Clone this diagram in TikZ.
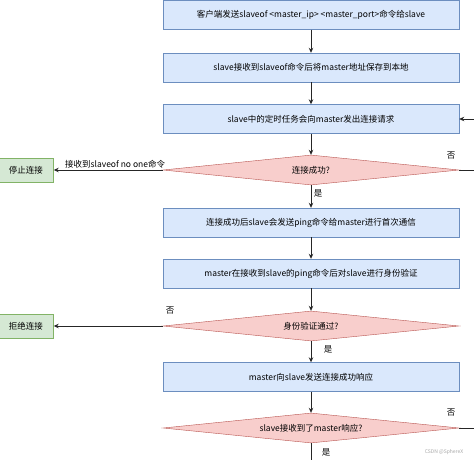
\documentclass[tikz,border=0pt]{standalone}
\usepackage{fontspec}
\setmainfont{Noto Sans CJK SC}
\usetikzlibrary{shapes.geometric,arrows.meta}
\definecolor{bfill}{HTML}{DAE8FC}\definecolor{bdraw}{HTML}{6C8EBF}
\definecolor{rfill}{HTML}{F8CECC}\definecolor{rdraw}{HTML}{B85450}
\definecolor{gfill}{HTML}{D5E8D4}\definecolor{gdraw}{HTML}{82B366}
\tikzset{
  stepbox/.style={draw=bdraw,fill=bfill,minimum width=296pt,minimum height=29pt,inner sep=0pt,font=\fontsize{8.5}{10}\selectfont},
  decide/.style={diamond,shape aspect=10,draw=rdraw,fill=rfill,minimum width=296pt,minimum height=30pt,inner sep=0pt,font=\fontsize{8.5}{10}\selectfont},
  endbox/.style={draw=gdraw,fill=gfill,minimum width=55pt,minimum height=24pt,inner sep=0pt,font=\fontsize{8.5}{10}\selectfont},
  lbl/.style={inner sep=0pt,font=\fontsize{8.5}{10}\selectfont},
  conn/.style={draw=black!85,line width=0.8pt,-{Stealth[length=5pt,width=4.5pt]}},
  line/.style={draw=black!85,line width=0.8pt}
}
\begin{document}
\begin{tikzpicture}[x=1pt,y=-1pt]
\useasboundingbox (0,0) rectangle (474,460);
\clip (0,0) rectangle (474,460);
\node[stepbox] (b1) at (311,15) {客户端发送slaveof <master\_ip> <master\_port>命令给slave};
\node[stepbox] (b2) at (311,67.5) {slave接收到slaveof命令后将master地址保存到本地};
\node[stepbox] (b3) at (311,119) {slave中的定时任务会向master发出连接请求};
\node[decide] (d1) at (311,170) {连接成功?};
\node[endbox] (e1) at (26,170) {停止连接};
\node[stepbox] (b4) at (311,222.5) {连接成功后slave会发送ping命令给master进行首次通信};
\node[stepbox] (b5) at (311,273.5) {master在接收到slave的ping命令后对slave进行身份验证};
\node[decide] (d2) at (311,326) {身份验证通过?};
\node[endbox] (e2) at (26,326) {拒绝连接};
\node[stepbox] (b6) at (311,377) {master向slave发送连接成功响应};
\node[decide] (d3) at (311,428) {slave接收到了master响应?};
\coordinate (loop1) at (485,170);
\coordinate (loop3) at (485,428);
\coordinate (down3) at (311,475);

\draw[conn] (b1) -- (b2);
\draw[conn] (b2) -- (b3);
\draw[conn] (b3) -- (d1);
\draw[conn] (d1) -- (b4);
\draw[conn] (b4) -- (b5);
\draw[conn] (b5) -- (d2);
\draw[conn] (d2) -- (b6);
\draw[conn] (b6) -- (d3);
\draw[conn] (d1.west) -- (e1.east);
\draw[conn] (d2.west) -- (e2.east);
\draw[conn] (d1.east) -- (loop1) |- (b3.east);
\draw[line] (d3.east) -- (loop3);
\draw[conn] (d3.south) -- (down3);

\node[lbl,anchor=west] (t1) at (65,164) {接收到slaveof no one命令};
\node[lbl] (t2) at (451,156) {否};
\node[lbl] (t3) at (318,193) {是};
\node[lbl] (t4) at (170,311) {否};
\node[lbl] (t5) at (328,349) {是};
\node[lbl] (t6) at (451,413) {否};
\node[lbl] (t7) at (326,452) {是};
\node[lbl,text=black!35,font=\fontsize{5}{6}\selectfont] (wm) at (444,452) {CSDN @SphereX};
\end{tikzpicture}
\end{document}
